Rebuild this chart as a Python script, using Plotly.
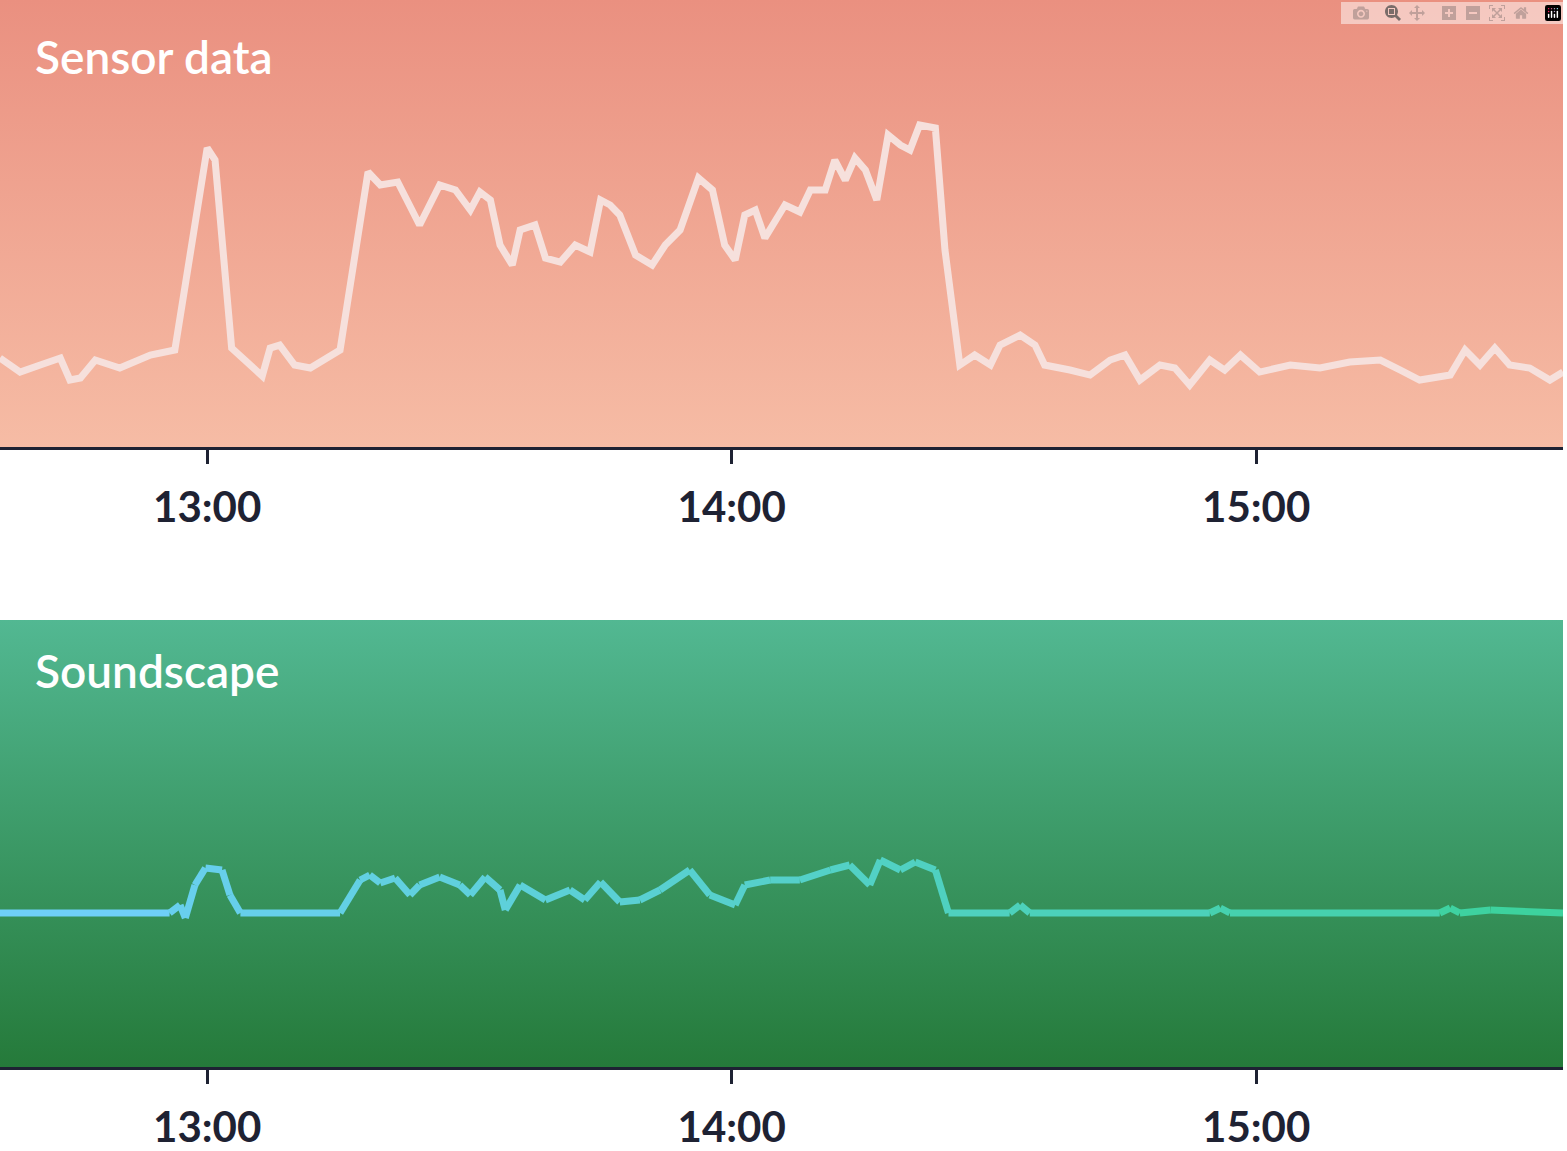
import plotly.graph_objects as go

# minutes since 12:00
sensor_t = [36.3,38.6,40.9,43.2,44.3,45.5,47.2,50.0,53.5,56.3,60.0,60.9,62.8,66.3,67.2,68.3,70.0,71.8,75.2,78.4,79.8,81.8,84.3,86.6,88.4,90.1,91.2,92.4,93.5,94.9,95.8,97.5,98.7,100.4,102.1,103.8,105.0,106.1,107.2,109.0,110.9,112.4,114.1,115.2,116.2,117.8,119.2,120.4,121.5,122.7,123.8,126.1,127.8,129.0,130.7,131.8,133.0,134.1,135.3,136.6,137.9,139.3,140.4,141.5,143.3,144.4,146.1,147.8,149.6,150.7,153.0,154.7,155.8,158.7,161.0,163.3,165.0,166.7,169.0,170.7,172.4,174.7,176.4,178.2,180.4,183.9,187.3,190.7,194.2,196.5,198.7,202.2,203.9,205.6,207.3,209.0,211.3,213.6,215.1]
sensor_v = [89,75,82,89,67,69,87,79,92,97,299,287,99,71,99,102,82,79,97,275,262,265,222,262,257,237,255,247,202,182,217,222,189,185,202,195,247,242,232,192,182,202,217,247,269,257,202,187,232,237,209,242,235,257,257,287,267,289,277,247,312,302,297,322,319,197,82,92,82,102,112,102,82,77,72,87,92,67,82,79,62,87,77,92,75,82,79,85,87,77,67,72,97,82,99,82,79,67,75]

sound_t = [36.3,55.7,56.9,57.5,58.6,59.8,61.7,62.6,63.8,75.2,77.5,78.6,79.8,81.5,83.2,84.3,86.6,88.9,90.1,91.8,93.5,94.1,95.8,98.7,101.5,103.2,105.0,107.2,109.5,111.8,115.2,117.5,120.4,121.5,124.4,127.8,131.3,133.5,135.8,137.0,139.3,141.0,143.3,144.8,151.8,153.0,154.1,174.7,175.9,177.0,201.0,202.2,203.3,206.8,215.1]
sound_v = [154,154,162,149,182,199,197,172,154,154,187,192,184,189,172,182,190,182,172,190,177,157,182,167,177,167,185,165,167,177,197,172,162,182,187,187,197,202,182,207,197,205,197,154,154,162,154,154,159,154,154,159,154,157,154]

ticks = [60, 120, 180]
tick_text = ["13:00", "14:00", "15:00"]
XR = [36.3, 215.1]

fig = go.Figure()

def bg(yaxis, xaxis, c_bottom, c_top):
    fig.add_trace(go.Scatter(x=[XR[0], XR[1], XR[1], XR[0], XR[0]], y=[0, 0, 447, 447, 0],
                             fill="toself", mode="lines", line=dict(width=0),
                             fillgradient=dict(type="vertical", colorscale=[[0, c_bottom], [1, c_top]]),
                             xaxis=xaxis, yaxis=yaxis, hoverinfo="skip", showlegend=False))

bg("y", "x", "#f6bca5", "#ea9080")
bg("y2", "x2", "#257a3a", "#52b892")

fig.add_trace(go.Scatter(x=sensor_t, y=sensor_v, mode="lines", line=dict(color="#f6e0dc", width=7),
                         xaxis="x", yaxis="y", showlegend=False))

def lerp(c1, c2, f):
    a = [int(c1[i:i+2], 16) for i in (1, 3, 5)]
    b = [int(c2[i:i+2], 16) for i in (1, 3, 5)]
    return "rgb(%d,%d,%d)" % tuple(round(a[k] + (b[k] - a[k]) * f) for k in range(3))

for i in range(len(sound_t) - 1):
    f = (sound_t[i] - XR[0]) / (XR[1] - XR[0])
    fig.add_trace(go.Scatter(x=sound_t[i:i+2], y=sound_v[i:i+2], mode="lines",
                             line=dict(color=lerp("#6ecff8", "#3bd29a", f), width=7),
                             xaxis="x2", yaxis="y2", showlegend=False))

ax = dict(range=XR, tickvals=ticks, ticktext=tick_text, showgrid=False, zeroline=False,
          showline=True, linecolor="#1e2233", linewidth=3, ticks="outside", ticklen=14,
          tickwidth=3, tickcolor="#1e2233", ticklabelstandoff=8,
          tickfont=dict(family="Lato", size=42, color="#1e2233", weight=700))
ay = dict(range=[0, 447], visible=False, fixedrange=True)

fig.update_layout(
    width=1567, height=1151, margin=dict(l=0, r=4, t=0, b=0),
    paper_bgcolor="white", plot_bgcolor="white",
    xaxis=dict(ax, anchor="y"), yaxis=dict(ay, domain=[0.6116, 1]),
    xaxis2=dict(ax, anchor="y2"), yaxis2=dict(ay, domain=[0.073, 0.4613]),
    annotations=[
        dict(text="Sensor data", xref="paper", yref="paper", x=0.021, y=1 - 57/1151, xanchor="left",
             yanchor="middle", showarrow=False, font=dict(family="Lato", size=46, color="white", weight=600)),
        dict(text="Soundscape", xref="paper", yref="paper", x=0.021, y=1 - 670/1151, xanchor="left",
             yanchor="middle", showarrow=False, font=dict(family="Lato", size=46, color="white", weight=600)),
    ],
)
fig.write_html("out.html", post_script="document.body.style.margin='0';document.body.style.overflow='hidden';")
